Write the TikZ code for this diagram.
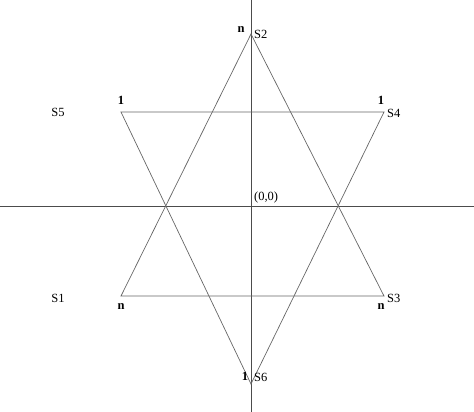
\documentclass[tikz,border=0pt]{standalone}
\usepackage{fontspec}
\setmainfont{Liberation Serif}
\usetikzlibrary{positioning}
\tikzset{
	axis/.style={draw=black!70, line width=0.7pt},
	side/.style={draw=black!60, line width=0.7pt},
	slabel/.style={font=\fontsize{12.5}{14}\selectfont, inner sep=1pt},
	vlabel/.style={font=\fontsize{12.5}{14}\selectfont\bfseries, inner sep=1pt},
}

\begin{document}
\begin{tikzpicture}[x=1pt, y=-1pt]
\useasboundingbox (0,0) rectangle (474,412);

% axes
\coordinate (xl) at (0,206);
\coordinate (xr) at (474,206);
\coordinate (yt) at (251,0);
\coordinate (yb) at (251,412);
\draw[axis] (xl) -- (xr);
\draw[axis] (yt) -- (yb);
\node[slabel, anchor=south west] (orig) at (253,204) {(0,0)};

% corners
\coordinate (s2) at (251,34);
\coordinate (s1) at (121,296);
\coordinate (s3) at (384,296);
\coordinate (s5) at (121,112);
\coordinate (s4) at (384,112);
\coordinate (s6) at (251,384);

% the two triangles
\draw[side] (s2) -- (s1) -- (s3) -- cycle;
\draw[side] (s5) -- (s4) -- (s6) -- cycle;

% names
\node[slabel, anchor=west] (ls2) at (253,34) {S2};
\node[slabel, anchor=west] (ls4) at (386,113) {S4};
\node[slabel, anchor=west] (ls3) at (386,298) {S3};
\node[slabel, anchor=west] (ls6) at (253,377) {S6};
\node[slabel] (ls5) at (58,112) {S5};
\node[slabel] (ls1) at (58,298) {S1};

% ends
\node[vlabel] (n2) at (241,30) {n};
\node[vlabel] (e5) at (121,100) {1};
\node[vlabel] (e4) at (381,100) {1};
\node[vlabel] (n1) at (121,307) {n};
\node[vlabel] (n3) at (381,307) {n};
\node[vlabel] (e6) at (245,376) {1};
\end{tikzpicture}
\end{document}
